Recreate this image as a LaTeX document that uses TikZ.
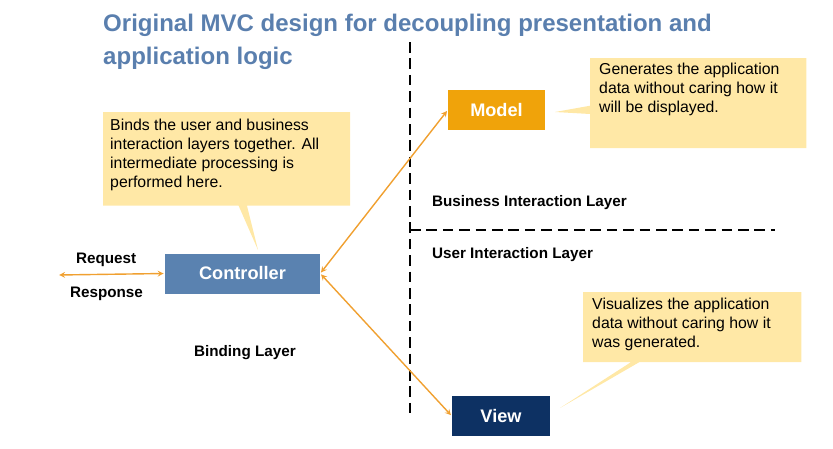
\documentclass[tikz,border=0pt]{standalone}
\usepackage{fontspec}
\setmainfont{Liberation Sans}
\usetikzlibrary{shapes.callouts}
\definecolor{titleblue}{HTML}{5A7FAE}
\definecolor{modelorange}{HTML}{F0A30A}
\definecolor{ctrlblue}{HTML}{5A82B0}
\definecolor{viewnavy}{HTML}{0D3163}
\definecolor{notefill}{HTML}{FFE8A6}
\definecolor{linkorange}{HTML}{F0A030}
\tikzset{>=stealth,
  block/.style = {draw=none,text=white,font=\fontsize{15.5}{18}\selectfont\bfseries,
    minimum height=1.2cm,inner sep=0pt},
  note/.style = {rectangle callout,fill=notefill,draw=none,inner sep=0pt,anchor=north west},
  notetext/.style = {align=left,font=\fontsize{13.5}{16.3}\selectfont,inner sep=0pt,
    anchor=north west},
  layer/.style = {font=\fontsize{13}{15}\selectfont\bfseries,anchor=west},
  link/.style = {<->,linkorange,line width=1.2pt,shorten <=1pt,shorten >=1pt}
}
\begin{document}
\begin{tikzpicture}[x=0.03cm,y=-0.03cm]
  \useasboundingbox (0,0) rectangle (833,449);
  % title
  \node[anchor=north west,text=titleblue,align=left,inner sep=0pt,
    font=\fontsize{20.5}{28}\selectfont\bfseries] (title) at (103,14)
    {Original MVC design for decoupling presentation and\\application logic};
  % layer boundaries
  \coordinate (vtop) at (410,42);
  \coordinate (vbot) at (410,418);
  \coordinate (hl) at (410,230);
  \coordinate (hr) at (775,230);
  \draw[line width=1.4pt,dash pattern=on 9pt off 5pt] (vtop) -- (vbot);
  \draw[line width=1.4pt,dash pattern=on 9pt off 5pt] (hl) -- (hr);
  % blocks
  \node[block,fill=modelorange,minimum width=2.91cm] (model) at (496.5,110) {Model};
  \node[block,fill=ctrlblue,minimum width=4.65cm] (ctrl) at (242.5,273.5) {Controller};
  \node[block,fill=viewnavy,minimum width=2.94cm] (view) at (501,416) {View};
  % notes
  \node[note,minimum width=6.48cm,minimum height=2.7cm,
    callout absolute pointer={(555,112)}] (mnote) at (590,58) {};
  \node[notetext] (mtext) at (599,63)
    {Generates the application\\data without caring how it\\will be displayed.};
  \node[note,minimum width=7.41cm,minimum height=2.8cm,
    callout absolute pointer={(258,250)}] (cnote) at (103,112) {};
  \node[notetext] (ctext) at (110,119)
    {Binds the user and business\\interaction layers together. All\\intermediate processing is\\performed here.};
  \node[note,minimum width=6.54cm,minimum height=2.1cm,
    callout absolute pointer={(560,408)}] (vnote) at (583,292) {};
  \node[notetext] (vtext) at (592,298)
    {Visualizes the application\\data without caring how it\\was generated.};
  % layer names
  \node[layer] (bil) at (428,203) {Business Interaction Layer};
  \node[layer] (uil) at (428,255) {User Interaction Layer};
  \node[layer] (bl) at (190,353) {Binding Layer};
  % request / response
  \coordinate (client) at (58,275);
  \draw[link] (client) -- (ctrl.west);
  \node[layer] (req) at (72,260) {Request};
  \node[layer] (resp) at (66,294) {Response};
  % links
  \draw[link] (ctrl.east) -- (model.west);
  \draw[link] (ctrl.east) -- (view.west);
\end{tikzpicture}
\end{document}
